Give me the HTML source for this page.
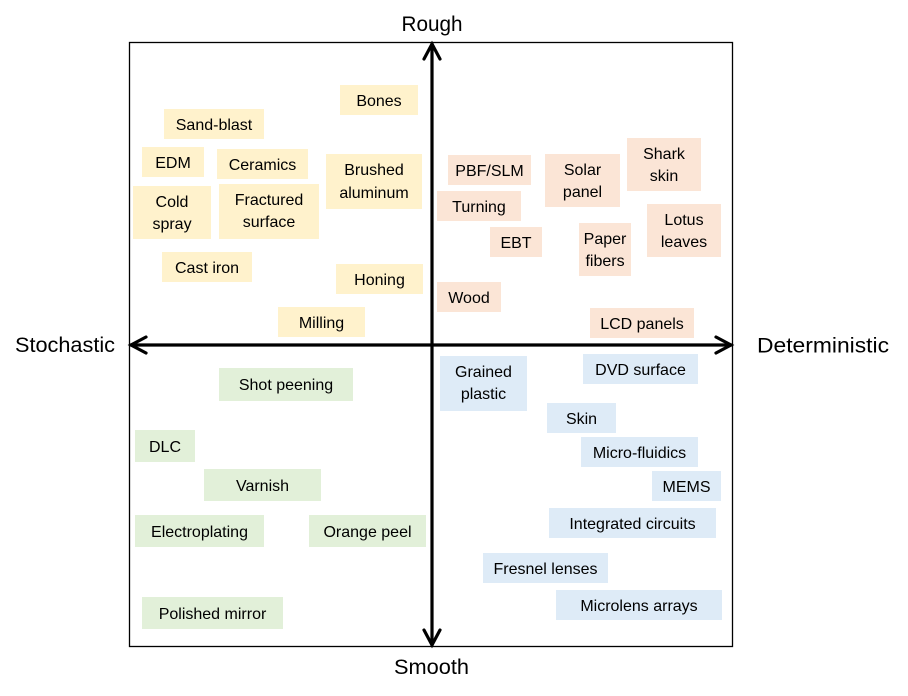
<!DOCTYPE html>
<html>
<head>
<meta charset="utf-8">
<style>
  html,body{margin:0;padding:0;background:#fff;}
  svg{display:block;}
  text{font-family:"Liberation Sans",Arial,sans-serif;fill:#000;}
  .b{font-size:16px;text-anchor:middle;}
  .ax{font-size:21px;}
</style>
</head>
<body>
<svg width="908" height="696" viewBox="0 0 908 696" xmlns="http://www.w3.org/2000/svg">
  <rect x="0" y="0" width="908" height="696" fill="#fff"/>
  <!-- frame -->
  <rect x="129.5" y="42.5" width="603" height="604" fill="none" stroke="#000" stroke-width="1.3"/>

  <!-- Yellow (Rough / Stochastic) -->
  <g fill="#FFF2CC">
    <rect x="340" y="85" width="78" height="30"/>
    <rect x="164" y="109" width="100" height="30"/>
    <rect x="142" y="147" width="62" height="30"/>
    <rect x="217" y="149" width="91" height="30"/>
    <rect x="326" y="154" width="96" height="55"/>
    <rect x="133" y="186" width="78" height="53"/>
    <rect x="219" y="184" width="100" height="55"/>
    <rect x="162" y="252" width="90" height="30"/>
    <rect x="336" y="264" width="87" height="30"/>
    <rect x="278" y="307" width="87" height="30"/>
  </g>
  <!-- Pink (Rough / Deterministic) -->
  <g fill="#FBE5D6">
    <rect x="448" y="155" width="83" height="30"/>
    <rect x="437" y="191" width="84" height="30"/>
    <rect x="490" y="227" width="52" height="30"/>
    <rect x="437" y="282" width="64" height="30"/>
    <rect x="545" y="154" width="75" height="53"/>
    <rect x="627" y="138" width="74" height="53"/>
    <rect x="579" y="223" width="52" height="53"/>
    <rect x="647" y="204" width="74" height="53"/>
    <rect x="590" y="308" width="104" height="30"/>
  </g>
  <!-- Green (Smooth / Stochastic) -->
  <g fill="#E2F0D9">
    <rect x="219" y="368" width="134" height="33"/>
    <rect x="135" y="430" width="60" height="32"/>
    <rect x="204" y="469" width="117" height="32"/>
    <rect x="135" y="515" width="129" height="32"/>
    <rect x="309" y="515" width="117" height="32"/>
    <rect x="142" y="597" width="141" height="32"/>
  </g>
  <!-- Blue (Smooth / Deterministic) -->
  <g fill="#DEEBF7">
    <rect x="440" y="356" width="87" height="55"/>
    <rect x="583" y="354" width="115" height="30"/>
    <rect x="547" y="403" width="69" height="30"/>
    <rect x="581" y="437" width="117" height="30"/>
    <rect x="652" y="471" width="69" height="30"/>
    <rect x="549" y="508" width="167" height="30"/>
    <rect x="483" y="553" width="125" height="30"/>
    <rect x="556" y="590" width="166" height="30"/>
  </g>

  <!-- labels yellow -->
  <text class="b" x="379" y="106">Bones</text>
  <text class="b" x="214" y="130">Sand-blast</text>
  <text class="b" x="173" y="168">EDM</text>
  <text class="b" x="262.5" y="170">Ceramics</text>
  <text class="b" x="374" y="175">Brushed</text>
  <text class="b" x="374" y="198">aluminum</text>
  <text class="b" x="172" y="207">Cold</text>
  <text class="b" x="172" y="229">spray</text>
  <text class="b" x="269" y="205">Fractured</text>
  <text class="b" x="269" y="227">surface</text>
  <text class="b" x="207" y="273">Cast iron</text>
  <text class="b" x="379.5" y="285">Honing</text>
  <text class="b" x="321.5" y="328">Milling</text>

  <!-- labels pink -->
  <text class="b" x="489.5" y="176">PBF/SLM</text>
  <text class="b" x="479" y="212">Turning</text>
  <text class="b" x="516" y="248">EBT</text>
  <text class="b" x="469" y="303">Wood</text>
  <text class="b" x="582.5" y="175">Solar</text>
  <text class="b" x="582.5" y="197">panel</text>
  <text class="b" x="664" y="159">Shark</text>
  <text class="b" x="664" y="181">skin</text>
  <text class="b" x="605" y="244">Paper</text>
  <text class="b" x="605" y="266">fibers</text>
  <text class="b" x="684" y="225">Lotus</text>
  <text class="b" x="684" y="247">leaves</text>
  <text class="b" x="642" y="329">LCD panels</text>

  <!-- labels green -->
  <text class="b" x="286" y="390">Shot peening</text>
  <text class="b" x="165" y="452">DLC</text>
  <text class="b" x="262.5" y="491">Varnish</text>
  <text class="b" x="199.5" y="537">Electroplating</text>
  <text class="b" x="367.5" y="537">Orange peel</text>
  <text class="b" x="212.5" y="619">Polished mirror</text>

  <!-- labels blue -->
  <text class="b" x="483.5" y="377">Grained</text>
  <text class="b" x="483.5" y="399">plastic</text>
  <text class="b" x="640.5" y="375">DVD surface</text>
  <text class="b" x="581.5" y="424">Skin</text>
  <text class="b" x="639.5" y="458">Micro-fluidics</text>
  <text class="b" x="686.5" y="492">MEMS</text>
  <text class="b" x="632.5" y="529">Integrated circuits</text>
  <text class="b" x="545.5" y="574">Fresnel lenses</text>
  <text class="b" x="639" y="611">Microlens arrays</text>

  <!-- axes -->
  <g stroke="#000" stroke-width="3.2" fill="none" stroke-linecap="round" stroke-linejoin="miter">
    <line x1="432" y1="44" x2="432" y2="645"/>
    <line x1="131" y1="345" x2="731" y2="345"/>
    <polyline points="424,59 432,44 440,59"/>
    <polyline points="424,630 432,645 440,630"/>
    <polyline points="146,337 131,345 146,353"/>
    <polyline points="716,337 731,345 716,353"/>
  </g>

  <!-- axis titles -->
  <text class="ax" x="432" y="31" text-anchor="middle" textLength="61" lengthAdjust="spacingAndGlyphs">Rough</text>
  <text class="ax" x="431.5" y="674" text-anchor="middle" textLength="75" lengthAdjust="spacingAndGlyphs">Smooth</text>
  <text class="ax" x="15" y="352" textLength="100" lengthAdjust="spacingAndGlyphs">Stochastic</text>
  <text class="ax" x="757" y="352.5" textLength="132" lengthAdjust="spacingAndGlyphs">Deterministic</text>
</svg>
</body>
</html>
